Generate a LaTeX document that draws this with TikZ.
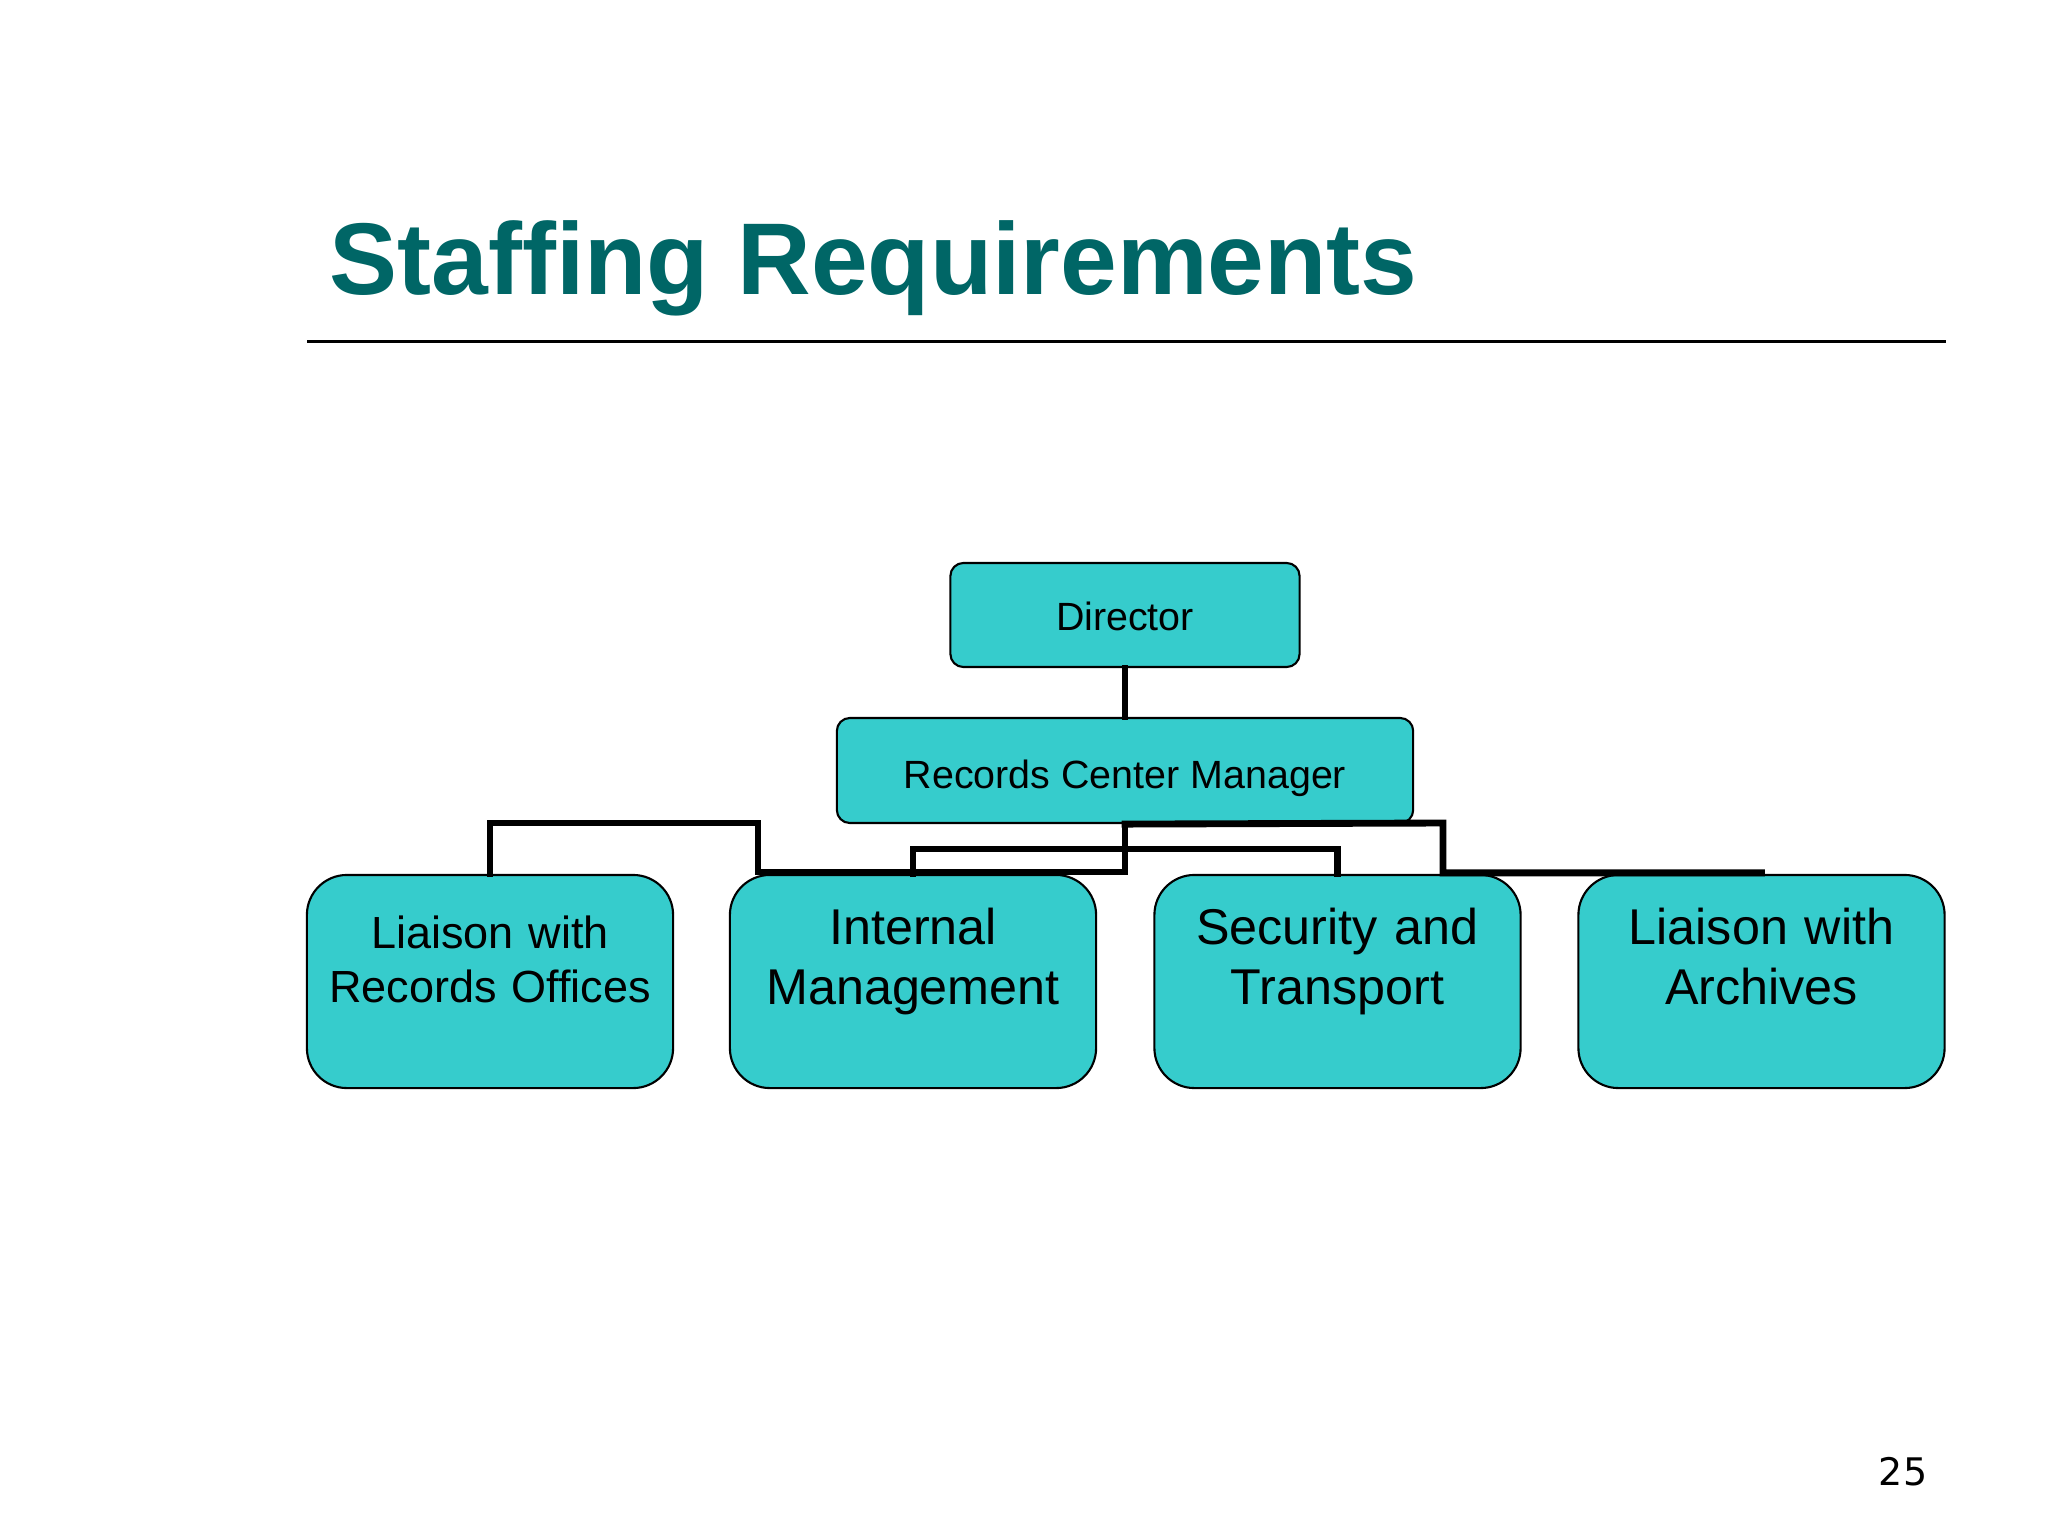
\documentclass[tikz,border=0pt]{standalone}
\usepackage{fontspec}
\setmainfont{Liberation Sans}
\newfontfamily\numfont{DejaVu Sans}
\definecolor{boxfill}{RGB}{54,204,204}
\definecolor{titlecol}{RGB}{0,102,102}
\begin{document}
\begin{tikzpicture}[x=0.01cm,y=-0.01cm,
  box/.style={draw=black, line width=0.6pt, fill=boxfill, inner sep=0pt},
  topbox/.style={box, rounded corners=0.13cm, font=\fontsize{11.2}{13.4}\selectfont, text depth=0pt},
  lowbox/.style={box, rounded corners=0.4cm, minimum width=3.66cm, minimum height=2.13cm},
  boxtext/.style={anchor=base, inner sep=0pt, text width=3.6cm, align=center},
  smalltext/.style={boxtext, font=\fontsize{12.8}{15.4}\selectfont},
  bigtext/.style={boxtext, font=\fontsize{14.3}{17.3}\selectfont},
  conn/.style={draw=black, line width=1.95pt, line cap=rect}
]
\useasboundingbox[fill=white] (0,0) rectangle (2048,1536);

% title and rule
\node[anchor=base west, inner sep=0pt, text=titlecol,
      font=\fontsize{29.0}{35}\selectfont\bfseries] (title) at (329,294) {Staffing Requirements};
\coordinate (ruleL) at (307,341);
\coordinate (ruleR) at (1946,341);
\draw[line width=0.85pt] (ruleL) -- (ruleR);

% boxes
\node[topbox, minimum width=3.49cm, minimum height=1.04cm, text height=0.30cm] (dir) at (1125,615) {Director};
\node[topbox, minimum width=5.76cm, minimum height=1.05cm, text height=0.35cm] (rcm) at (1125,770.5) {Records Center Manager};

\node[lowbox] (b1) at (490,981.5) {};
\node[lowbox] (b2) at (913,981.5) {};
\node[lowbox] (b3) at (1337.5,981.5) {};
\node[lowbox] (b4) at (1761.5,981.5) {};

\node[smalltext] (t1) at (490,948) {Liaison with\\Records Offices};
\node[bigtext] (t2) at (913,944) {Internal\\Management};
\node[bigtext] (t3) at (1337.5,944) {Security and\\Transport};
\node[bigtext] (t4) at (1761.5,944) {Liaison with\\Archives};

% connectors
\coordinate (bus) at (1125,849);
\draw[conn] (dir.south) -- (rcm.north);
\draw[conn] (rcm.south) |- (758,872) -- (758,823) -| (b1.north);
\draw[conn] (rcm.south) -- (bus) -| (b2.north);
\draw[conn] (bus) -| (b3.north);
\draw[conn] (rcm.south) -- (1443,823) |- ([yshift=0.01cm]b4.north);

% page number
\node[anchor=base east, inner sep=0pt, font=\numfont\fontsize{10.8}{12}\selectfont] (pg) at (1928,1485) {25};
\end{tikzpicture}
\end{document}
